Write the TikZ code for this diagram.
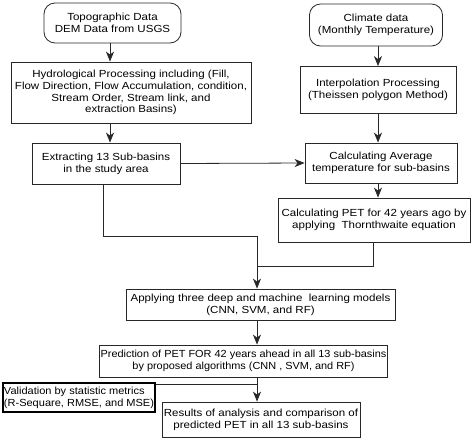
\documentclass[tikz,border=0pt]{standalone}
\usepackage{fontspec}
\setmainfont{Liberation Sans}
\usetikzlibrary{calc,arrows.meta}
\definecolor{linegray}{RGB}{40,40,40}
\newcommand\boxfont[1]{\fontspec{Liberation Sans}[FakeStretch=#1]\fontsize{10.3}{11.8}\selectfont}
\tikzset{
	box/.style={draw=linegray, line width=0.8pt, inner sep=1pt, align=center, font=\boxfont{1.12}},
	roundbox/.style={box, rounded corners=11pt},
	validbox/.style={box, draw=black, line width=1.8pt, align=left},
	wide/.style={font=\boxfont{#1}},
	link/.style={draw=linegray, line width=0.8pt},
	arr/.style={link, -{Stealth[length=10pt,width=8pt,inset=3pt]}}
}

\begin{document}
\begin{tikzpicture}[x=1pt, y=-1pt]
			%%%%% START %%%%%
			\useasboundingbox (0,0) rectangle (474,440);
			
			\node[roundbox, minimum width=137, minimum height=40] (topo) at (112.5, 23) {Topographic Data\\DEM Data from USGS};
			\node[box, minimum width=240, minimum height=61] (hydro) at (131, 92.5) {Hydrological Processing including (Fill,\\Flow Direction, Flow Accumulation, condition,\\Stream Order, Stream link, and\\extraction Basins)};
			\node[box, minimum width=148, minimum height=41] (extr) at (106, 163.5) {Extracting 13 Sub-basins\\in the study area};
			
			\node[roundbox, minimum width=133, minimum height=42] (clim) at (376, 25) {Climate data\\(Monthly Temperature)};
			\node[box, minimum width=156, minimum height=47] (interp) at (378, 90) {Interpolation Processing\\(Theissen polygon Method)};
			\node[box, minimum width=152, minimum height=40] (avg) at (381, 163) {Calculating Average\\temperature for sub-basins};
			\node[box, minimum width=192, minimum height=44] (pet) at (374, 220) {Calculating PET for 42 years ago by\\applying\ \ Thornthwaite equation};
			
			\node[box, minimum width=269, minimum height=31] (apply) at (260.5, 304.5) {Applying three deep and machine\ \ learning models\\(CNN, SVM, and RF)};
			\node[box, wide=1.06, minimum width=287, minimum height=32] (pred) at (243.5, 361) {Prediction of PET FOR 42 years ahead in all 13 sub-basins\\by proposed algorithms (CNN , SVM, and RF)};
			\node[validbox, wide=1.07, minimum width=150, minimum height=29] (valid) at (79, 397.5) {Validation by statistic metrics\\(R-Sequare, RMSE, and MSE)};
			\node[box, minimum width=198, minimum height=35] (res) at (261, 419.5) {Results of analysis and comparison of\\predicted PET in all 13 sub-basins};
			
			\coordinate (joinA) at (257, 236);
			\coordinate (joinB) at (257, 266);
			\coordinate (joinC) at (257, 384);
			
			\draw[arr] (topo.south -| 110,0) -- (hydro.north -| 110,0);
			\draw[arr] (hydro.south -| 110,0) -- (extr.north -| 110,0);
			\draw[arr] (clim.south -| 378,0) -- (interp.north -| 378,0);
			\draw[arr] (interp.south -| 378,0) -- (avg.north -| 378,0);
			\draw[arr] (avg.south -| 378,0) -- (pet.north -| 378,0);
			\draw[arr] (extr.east) -- (avg.west);
			
			\draw[link] (extr.south -| 103,0) |- (joinA);
			\draw[link] (pet.south -| 373,0) |- (joinB);
			\draw[arr] (joinA) -- (apply.north -| joinA);
			\draw[arr] (apply.south -| joinA) -- (pred.north -| joinA);
			\draw[arr] (pred.south -| joinA) -- (res.north -| joinA);
			\draw[link] (valid.east |- joinC) -- (joinC);
			%%%%% END %%%%%
\end{tikzpicture}
\end{document}
